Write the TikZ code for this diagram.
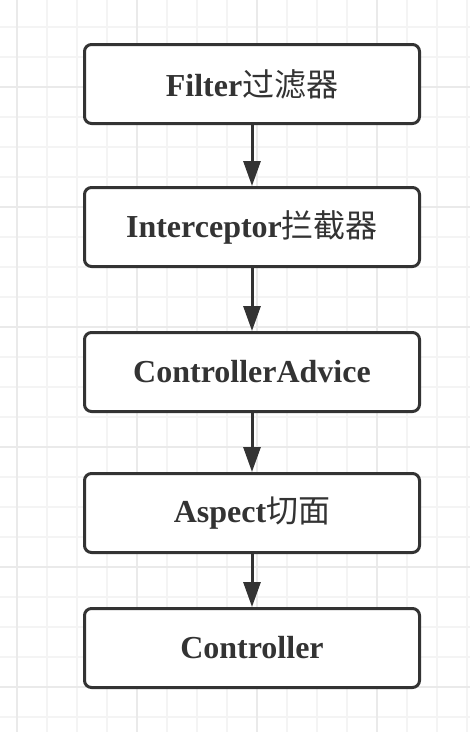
\documentclass[tikz,border=0pt]{standalone}
\usepackage{fontspec}
\setmainfont{Liberation Serif}
\newfontfamily\cjk{Noto Sans CJK SC}
\usetikzlibrary{arrows.meta, positioning}
\definecolor{ink}{HTML}{333333}
\definecolor{gridminor}{HTML}{F4F4F4}
\definecolor{gridmajor}{HTML}{EAEAEA}

\begin{document}
\begin{tikzpicture}[x=1pt,y=-1pt,
	stage/.style={draw=ink,line width=3pt,rounded corners=7pt,fill=white,
		minimum width=335pt,minimum height=79pt,text=ink,
		font=\bfseries\fontsize{32}{36}\selectfont},
	flow/.style={draw=ink,line width=3pt,-{Triangle[length=25pt,width=17pt]}}]
	\useasboundingbox (0,0) rectangle (470,732);
	\fill[white] (0,0) rectangle (470,732);
	% grid
	\foreach \gx in {17,47,...,467}
		\draw[gridminor,line width=2pt] (\gx,0) -- (\gx,732);
	\foreach \gy in {27,57,...,717}
		\draw[gridminor,line width=2pt] (0,\gy) -- (470,\gy);
	\foreach \gx in {17,137,...,467}
		\draw[gridmajor,line width=2pt] (\gx,0) -- (\gx,732);
	\foreach \gy in {87,207,...,717}
		\draw[gridmajor,line width=2pt] (0,\gy) -- (470,\gy);
	% stages
	\node[stage] (filter) at (252,84) {Filter{\cjk\mdseries 过滤器}};
	\node[stage,below=61pt of filter] (interceptor) {Interceptor{\cjk\mdseries 拦截器}};
	\node[stage,below=63pt of interceptor] (advice) {ControllerAdvice};
	\node[stage,below=59pt of advice] (aspect) {Aspect{\cjk\mdseries 切面}};
	\node[stage,below=53pt of aspect] (controller) {Controller};
	% arrows
	\draw[flow] (filter) -- (interceptor);
	\draw[flow] (interceptor) -- (advice);
	\draw[flow] (advice) -- (aspect);
	\draw[flow] (aspect) -- (controller);
\end{tikzpicture}
\end{document}
